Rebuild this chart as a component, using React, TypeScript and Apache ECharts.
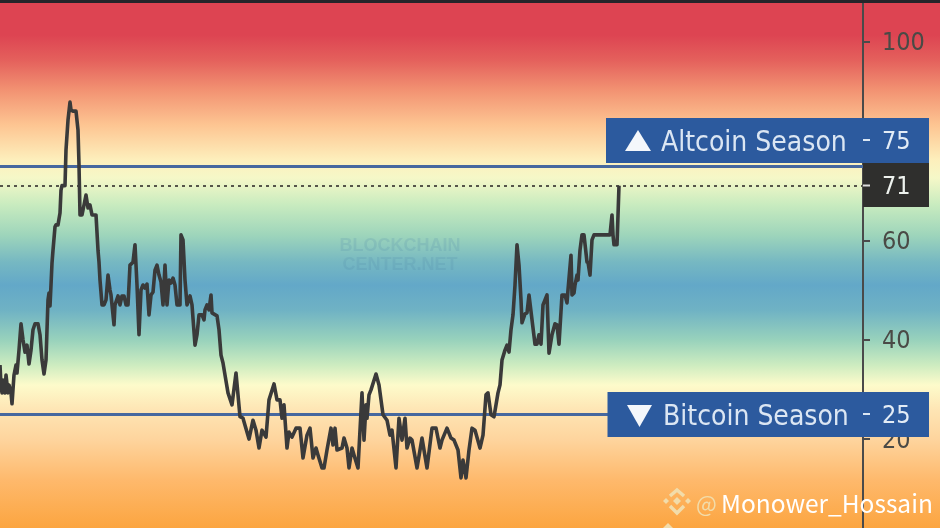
import React, { useEffect, useRef } from "react";
import * as echarts from "echarts";

const days = [0,1,2,3,5,6,8,9,11,12,14,16,17,19,21,23,25,27,29,31,33,35,38,40,42,44,46,47,48,49,50,51,52,53,55,56,58,60,61,62,65,66,68,70,71,73,76,78,79,80,82,84,86,88,90,92,96,98,99,100,102,104,106,108,110,111,114,115,118,120,122,124,126,128,130,133,135,137,139,141,143,145,147,149,151,153,155,157,159,161,163,165,167,169,171,173,175,177,180,181,183,185,187,190,192,195,197,199,202,204,205,207,209,211,212,217,219,221,223,225,228,232,236,238,240,243,245,249,253,256,259,262,266,269,274,277,280,282,284,287,289,292,296,300,303,307,310,313,316,318,322,324,327,331,333,335,337,342,344,347,349,352,354,358,362,364,366,367,369,371,376,379,383,387,390,392,396,399,402,405,407,410,412,417,422,427,432,436,440,442,447,451,454,458,461,463,466,469,472,475,480,483,486,488,491,494,498,500,502,505,507,509,511,513,515,517,519,521,522,525,527,529,532,535,537,539,541,543,547,549,552,555,557,559,562,565,567,568,571,572,574,575,577,578,580,582,584,587,588,590,592,594,610,612,613,614,617,619];
const altcoinIndex = [34.9,30.9,29.3,31.9,29.3,32.9,29.3,30.9,29.3,27.1,32.9,34.9,33.3,37.9,43.2,40,37.5,38.9,35.1,37.9,42,43.2,43.2,41,35.9,33.1,35.9,42,48,49.4,46.8,51,55.4,58,62.7,63.1,63.1,65.5,70.1,71,71,78.2,84.2,87.8,86.2,86,86,82.2,75.2,65.1,65.1,67.1,69.1,66.5,67.1,65.1,65.1,58,55.6,52,47,47,48,53,50,49,43,47,48.8,47,48.8,48.8,47,47,55,55.6,59.1,51,41,50,51,50.4,51.2,45,49,49.6,54,55,53,51.6,47,55,47,52,51.4,52.4,51,47,47,61.1,60.1,52,47,48.8,47,38.9,41,45,45,44,46,47,46,49,45.4,44.8,42,36.9,35.3,32.9,29.3,26.9,33.3,28.9,24.5,24.2,22.8,20,23.8,21.8,18.2,21.8,20.4,27.9,31.1,27.9,27.9,24.2,26.9,18.2,21.4,20.4,22.2,22.2,16.2,20.8,22.2,16.2,18.2,16.8,14.2,14.2,17.8,22.2,18.8,22.2,17.8,18.2,20.2,18.2,14.2,18.2,16.8,14.2,29.3,19.8,26.9,24.2,28.9,29.9,33.1,30.9,24.9,23.8,20.8,21.8,14.2,24.2,19.8,24.2,18.2,20.2,19.8,14.2,20.2,14.2,22.2,22.2,18.2,19.8,22.2,20.2,19.8,17.8,12.2,15.8,12.2,17.8,22.2,21.8,18.2,20.8,28.9,29.3,24.9,24.5,29.3,30.9,35.9,37.9,38.9,37.5,42,45,51,59.1,55,48,43.4,45.2,45.4,49,44,39.1,39.1,41,39.1,47,49,37.3,41,43.2,43,39.1,49,49,47.4,50,57,49,49.4,51,53,52,58,61.1,61.1,55.6,55.6,53,60.1,61.1,61.1,65.1,61.1,59.1,59.1,71];
const seriesData = days.map((d, i) => [d, altcoinIndex[i]]);

const altcoinLevel = 75;
const bitcoinLevel = 25;
const currentLevel = 71;
const altcoinLabel = "Altcoin Season";
const bitcoinLabel = "Bitcoin Season";
const watermarkLines = ["BLOCKCHAIN", "CENTER.NET"];
const handle = "Monower_Hossain";

const H = 528;
const bgStops: [number, string][] = [
  [0, "#dd4452"], [35, "#dd4452"], [60, "#e4605c"], [90, "#f29272"], [125, "#fdc592"],
  [160, "#fdefbc"], [178, "#f5f8c8"], [205, "#c8ebbf"], [235, "#9ed5bb"], [262, "#76b8c2"],
  [285, "#63a8c8"], [310, "#6fb2c4"], [340, "#98d2bc"], [365, "#cdecc0"], [385, "#fdfbcb"],
  [410, "#fee5b4"], [440, "#fed49d"], [480, "#feb96c"], [528, "#fca540"],
];

const FONT = "'DejaVu Sans Condensed', 'DejaVu Sans', sans-serif";
const BLUE = "#2c5a9e";

function diamond(cx: number, cy: number, r: number, fill: string) {
  return {
    type: "polygon", z: 60,
    shape: { points: [[cx, cy - r], [cx + r, cy], [cx, cy + r], [cx - r, cy]] },
    style: { fill },
  };
}

export default function App() {
  const ref = useRef<HTMLDivElement>(null);
  useEffect(() => {
    const chart = echarts.init(ref.current!, null, { renderer: "svg" });
    const levelLine = (v: number, color: string, width: number, type: any) => ({
      yAxis: v,
      lineStyle: { color, width, type },
    });
    const tan = "#f2dcaa";
    chart.setOption({
      animation: false,
      grid: { left: 0, right: 77, top: -8.2, bottom: -10.5, outerBoundsMode: "none", containLabel: false },
      xAxis: { type: "value", min: 0, max: 863, show: false },
      yAxis: {
        type: "value", position: "right", min: 0, max: 110, interval: 20,
        axisLine: { show: true, onZero: false, lineStyle: { color: "#4a4a4a", width: 2 } },
        axisTick: { show: true, length: 7, lineStyle: { color: "#4a4a4a", width: 2 } },
        axisLabel: { margin: 19, color: "#4a4a46", fontFamily: FONT, fontSize: 25, align: "left", showMaxLabel: false },
        splitLine: { show: false },
      },
      series: [
        {
          type: "line", data: seriesData, showSymbol: false, smooth: false, z: 5,
          lineStyle: { color: "#3a3a3a", width: 3.6, join: "round" },
          markLine: {
            silent: true, symbol: "none", label: { show: false }, z: 3,
            data: [
              levelLine(altcoinLevel, "#46689f", 3, "solid"),
              levelLine(bitcoinLevel, "#46689f", 3, "solid"),
              levelLine(currentLevel, "#55554a", 2, [3, 4]),
            ],
          },
        },
      ],
      graphic: [
        { type: "rect", z: -10, shape: { x: 0, y: 0, width: 940, height: H }, style: {
          fill: new echarts.graphic.LinearGradient(0, 0, 0, 1, bgStops.map(([y, color]) => ({ offset: y / H, color }))),
        } },
        { type: "rect", z: 50, shape: { x: 0, y: 0, width: 940, height: 3 }, style: { fill: "#25252a" } },
        ...watermarkLines.map((t, i) => ({
          type: "text", z: 1, x: 400, y: 245 + i * 19,
          style: { text: t, fill: "rgba(80,135,165,0.18)", font: `bold 18px 'Liberation Sans', sans-serif`, align: "center", verticalAlign: "middle" },
        })),
        { type: "rect", z: 50, shape: { x: 606, y: 118, width: 323, height: 45 }, style: { fill: BLUE } },
        { type: "polygon", z: 51, shape: { points: [[625, 151], [638, 130], [651, 151]] }, style: { fill: "#f4f7fb" } },
        { type: "text", z: 51, x: 661, y: 141, style: { text: altcoinLabel, fill: "#dbe6f3", font: `28px ${FONT}`, align: "left", verticalAlign: "middle" } },
        { type: "rect", z: 51, shape: { x: 863, y: 139, width: 7, height: 2 }, style: { fill: "#dbe6f3" } },
        { type: "text", z: 51, x: 882, y: 140, style: { text: String(altcoinLevel), fill: "#e3ecf6", font: `25px ${FONT}`, align: "left", verticalAlign: "middle" } },
        { type: "rect", z: 50, shape: { x: 863, y: 163, width: 66, height: 44 }, style: { fill: "#2f2f2d" } },
        { type: "rect", z: 51, shape: { x: 863, y: 184.5, width: 7, height: 2 }, style: { fill: "#dddddd" } },
        { type: "text", z: 51, x: 882, y: 185, style: { text: String(currentLevel), fill: "#eef2ee", font: `25px ${FONT}`, align: "left", verticalAlign: "middle" } },
        { type: "rect", z: 50, shape: { x: 607.5, y: 392, width: 321.5, height: 45 }, style: { fill: BLUE } },
        { type: "polygon", z: 51, shape: { points: [[627, 405], [652, 405], [639.5, 427]] }, style: { fill: "#f4f7fb" } },
        { type: "text", z: 51, x: 663, y: 415.5, style: { text: bitcoinLabel, fill: "#dbe6f3", font: `28px ${FONT}`, align: "left", verticalAlign: "middle" } },
        { type: "rect", z: 51, shape: { x: 863, y: 413, width: 7, height: 2 }, style: { fill: "#dbe6f3" } },
        { type: "text", z: 51, x: 882, y: 414, style: { text: String(bitcoinLevel), fill: "#e3ecf6", font: `25px ${FONT}`, align: "left", verticalAlign: "middle" } },
        diamond(677, 501, 4, tan),
        diamond(666, 501, 3, tan),
        diamond(688, 501, 3, tan),
        { type: "polyline", z: 60, shape: { points: [[670, 496], [677, 490], [684, 496]] }, style: { stroke: tan, lineWidth: 3.5, fill: "none" } },
        { type: "polyline", z: 60, shape: { points: [[670, 506], [677, 513], [684, 506]] }, style: { stroke: tan, lineWidth: 3.5, fill: "none" } },
        diamond(668, 530, 7, tan),
        { type: "text", z: 60, x: 696, y: 502, style: { text: "@", fill: tan, font: `22px 'Noto Sans CJK SC', sans-serif`, align: "left", verticalAlign: "middle" } },
        { type: "text", z: 60, x: 721, y: 502, style: { text: handle, fill: "#ffffff", font: `24.5px 'Noto Sans CJK SC', sans-serif`, align: "left", verticalAlign: "middle" } },
      ],
    });
    return () => chart.dispose();
  }, []);
  return <div ref={ref} style={{ position: "fixed", left: 0, top: 0, width: 940, height: 528 }} />;
}
